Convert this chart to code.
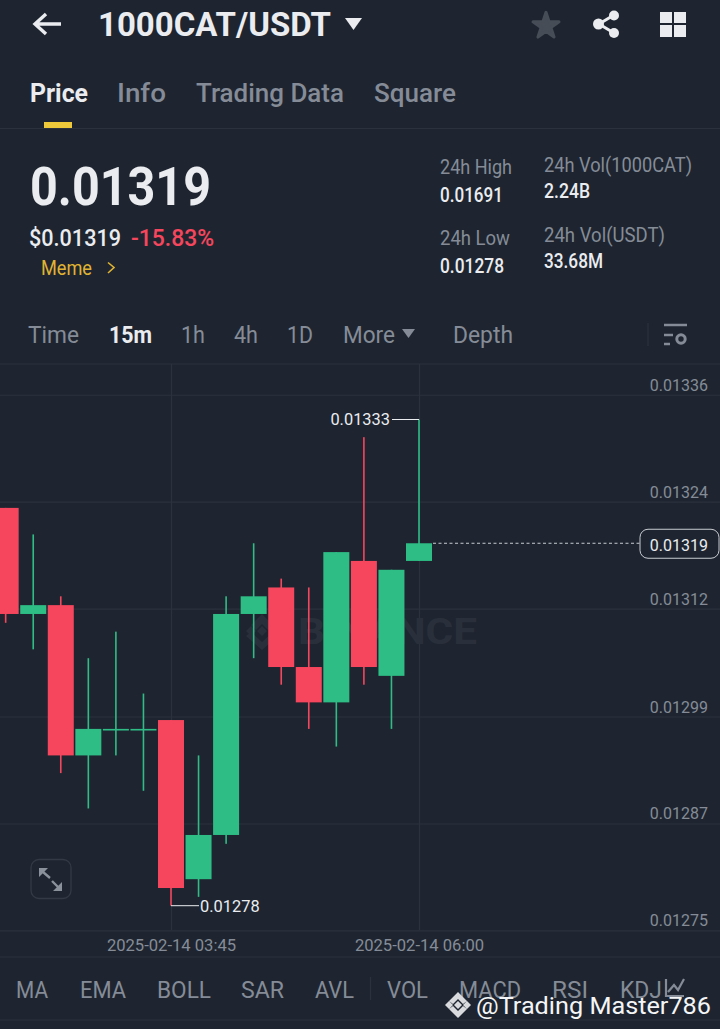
<!DOCTYPE html>
<html>
<head>
<meta charset="utf-8">
<style>
  html, body { margin: 0; padding: 0; background: #1e2530; }
  svg { display: block; }
  text { font-family: Roboto, sans-serif; }
</style>
</head>
<body>
<div id="chart"></div>
<script src="https://cdn.jsdelivr.net/npm/d3@7"></script>
<script>
// 15m candles, one per slot
let times = ['02:15', '02:30', '02:45', '03:00', '03:15', '03:30', '03:45', '04:00',
  '04:15', '04:30', '04:45', '05:00', '05:15', '05:30', '05:45', '06:00']
let opens = [0.01323, 0.01311, 0.01312, 0.01295, 0.01298, 0.01298, 0.01299, 0.01281,
  0.01286, 0.01311, 0.01314, 0.01305, 0.01301, 0.01317, 0.01304, 0.01317]
let closes = [0.01311, 0.01312, 0.01295, 0.01298, 0.01298, 0.01298, 0.01280, 0.01286,
  0.01311, 0.01313, 0.01305, 0.01301, 0.01318, 0.01305, 0.01316, 0.01319]
let highs = [0.01323, 0.01320, 0.01313, 0.01306, 0.01309, 0.01302, 0.01299, 0.01295,
  0.01313, 0.01319, 0.01315, 0.01314, 0.01318, 0.01331, 0.01316, 0.01333]
let lows = [0.01310, 0.01307, 0.01293, 0.01289, 0.01295, 0.01291, 0.01278, 0.01279,
  0.01285, 0.01306, 0.01303, 0.01298, 0.01296, 0.01303, 0.01298, 0.01317]

// the app's gridlines sit on unrounded prices, labels round them to 5 places
let priceTicks = [0.013358, 0.013237, 0.013116, 0.012994, 0.012873, 0.012752]
let timeTicks = ['03:45', '06:00']
let lastPrice = 0.01319
let maxPrice = 0.01333
let minPrice = 0.01278

let tabs = ['Price', 'Info', 'Trading Data', 'Square']
let intervals = ['Time', '15m', '1h', '4h', '1D', 'More', 'Depth']
let indicators = ['MA', 'EMA', 'BOLL', 'SAR', 'AVL', 'VOL', 'MACD', 'RSI', 'KDJ']

let width = 720
let height = 1029

let bg = '#1e2530'
let gridColor = '#2c323d'
let grey = '#858c97'
let white = '#eaecef'
let green = '#2ebd85'
let red = '#f6465d'

let parseTime = d => new Date(2025, 1, 14, +d.slice(0, 2), +d.slice(3))

let candles = times.map((t, i) => ({
  time: parseTime(t), open: opens[i], close: closes[i], high: highs[i], low: lows[i]
}))

let svg = d3
  .select('#chart')
  .append('svg')
  .attr('width', width)
  .attr('height', height)

svg.append('rect').attr('width', width).attr('height', height).attr('fill', bg)

let x = d3
  .scaleTime()
  .domain([parseTime('03:45'), parseTime('06:00')])
  .range([171, 419])

let y = d3
  .scaleLinear()
  .domain([minPrice, maxPrice])
  .range([905.7, 419.5])

function label(str, xPos, yPos, size, fill, weight, fit) {
  let t = svg
    .append('text')
    .attr('x', xPos)
    .attr('y', yPos)
    .attr('font-size', size)
    .attr('fill', fill)
    .attr('font-weight', weight || 400)
    .text(str)
  if (fit) t.attr('textLength', fit).attr('lengthAdjust', 'spacingAndGlyphs')
  return t
}

function hline(yPos, x1, x2) {
  svg.append('line')
    .attr('x1', x1 || 0).attr('x2', x2 || width)
    .attr('y1', yPos).attr('y2', yPos)
    .attr('stroke', gridColor).attr('stroke-width', 1.2)
}

// ---- header
svg.append('path')
  .attr('d', 'M61 24H36M46 14L35 24L46 34')
  .attr('fill', 'none').attr('stroke', white).attr('stroke-width', 3.4)
label('1000CAT/USDT', 98, 36, 34, white, 700, 233)
svg.append('path').attr('d', 'M345 18H362L353.5 30Z').attr('fill', white)
svg.append('path')
  .attr('d', d3.symbol(d3.symbolStar).size(210)())
  .attr('transform', 'translate(546,26)')
  .attr('fill', '#474d57')
  .attr('stroke', '#474d57').attr('stroke-width', 3).attr('stroke-linejoin', 'round')
svg.append('path')
  .attr('d', 'M614 15L599 24L614 33')
  .attr('fill', 'none').attr('stroke', white).attr('stroke-width', 3)
svg.selectAll('.share')
  .data([[614, 15.5, 5], [598.5, 24, 5.5], [614, 33, 5]])
  .enter().append('circle')
  .attr('cx', d => d[0]).attr('cy', d => d[1]).attr('r', d => d[2])
  .attr('fill', white)
svg.selectAll('.cell')
  .data([[660, 12, 12, 11], [674, 12, 12, 11], [660, 25, 12, 12], [674, 25, 12, 12]])
  .enter().append('rect')
  .attr('x', d => d[0]).attr('y', d => d[1]).attr('width', d => d[2]).attr('height', d => d[3])
  .attr('fill', white)

// ---- tabs
let tabX = [30, 117, 196, 374]
let tabW = [58, 49, 148, 82]
tabs.forEach((t, i) => {
  label(t, tabX[i], 102, 26, i == 0 ? white : grey, i == 0 ? 700 : 500, tabW[i])
})
svg.append('rect').attr('x', 44).attr('y', 122).attr('width', 28).attr('height', 6).attr('fill', '#f0c93a')
hline(128.5)

// ---- price block
label('0.01319', 30, 204.5, 54, white, 700, 181)
label('$0.01319', 29, 246, 24, white, 500, 92)
label('-15.83%', 131, 246, 24, red, 500, 83)
label('Meme', 41, 275, 20, '#e0b432', 400, 51)
svg.append('path')
  .attr('d', 'M108 262.5L114 267.5L108 273')
  .attr('fill', 'none').attr('stroke', '#e0b432').attr('stroke-width', 1.6)

label('24h High', 440, 174, 20.5, grey, 400, 72)
label('0.01691', 440, 201.5, 20, white, 500, 63)
label('24h Low', 440, 245, 20.5, grey, 400, 70)
label('0.01278', 440, 272.5, 20, white, 500, 64)
label('24h Vol(1000CAT)', 544, 171.5, 20.5, grey, 400, 148)
label('2.24B', 544, 198, 20, white, 500, 46)
label('24h Vol(USDT)', 544, 241.5, 20.5, grey, 400, 121)
label('33.68M', 544, 268, 20, white, 500, 59)

// ---- interval row
let intervalX = [28, 109, 181, 234, 287, 343, 453]
let intervalW = [51, 43, 24, 24, 26, 52, 60]
intervals.forEach((t, i) => {
  label(t, intervalX[i], 342.5, 24, i == 1 ? white : grey, i == 1 ? 700 : 400, intervalW[i])
})
svg.append('path').attr('d', 'M402 329H415L408.5 338Z').attr('fill', grey)
svg.append('line')
  .attr('x1', 648).attr('x2', 648).attr('y1', 323).attr('y2', 346)
  .attr('stroke', gridColor).attr('stroke-width', 1.2)
svg.append('path')
  .attr('d', 'M664 325H687M664 335H673M664 344H670')
  .attr('fill', 'none').attr('stroke', grey).attr('stroke-width', 2.6)
svg.append('circle')
  .attr('cx', 681).attr('cy', 339).attr('r', 4.2)
  .attr('fill', 'none').attr('stroke', grey).attr('stroke-width', 3)

// ---- chart grid
hline(364)

let priceAxis = d3
  .axisRight(y)
  .tickValues(priceTicks)
  .tickFormat(d3.format('.5f'))
  .tickSize(width)

svg.append('g')
  .attr('class', 'price-axis')
  .call(priceAxis)
  .call(g => g.select('.domain').remove())
  .call(g => g.selectAll('line').attr('stroke', gridColor).attr('stroke-width', 1.2))
  .call(g => g.selectAll('text')
    .attr('x', 708).attr('dy', -4.5)
    .attr('text-anchor', 'end')
    .attr('font-family', 'Roboto, sans-serif')
    .attr('font-size', 16)
    .attr('fill', grey))

let timeAxis = d3
  .axisBottom(x)
  .tickValues(timeTicks.map(parseTime))
  .tickFormat(d3.timeFormat('%Y-%m-%d %H:%M'))
  .tickSize(0)
  .tickPadding(9)

let timeG = svg.append('g')
  .attr('transform', 'translate(0,930)')
  .call(timeAxis)
  .call(g => g.select('.domain').remove())
  .call(g => g.selectAll('text')
    .attr('font-family', 'Roboto, sans-serif')
    .attr('font-size', 16.6)
    .attr('fill', grey))

timeG.selectAll('.tick').append('line')
  .attr('y1', 0).attr('y2', -566)
  .attr('stroke', gridColor).attr('stroke-width', 1.2)

// ---- faint exchange watermark, under the candles
svg.append('path')
  .attr('d', 'M262 614L273 625L268 630L262 624L256 630L251 625ZM246 631L251 626L256 631L251 636ZM262 626L267 631L262 636L257 631ZM273 631L278 636 L262 650L246 636L251 632L262 642L273 632Z')
  .attr('fill', '#2a303b')
label('BINANCE', 298, 644, 36, '#2a303b', 700, 179)

// ---- candles
let candle = svg.selectAll('.candle')
  .data(candles)
  .enter()
  .append('g')
  .attr('class', 'candle')
  .attr('fill', d => d.close >= d.open ? green : red)

candle.append('rect')
  .attr('x', d => x(d.time) - 0.8)
  .attr('width', 1.6)
  .attr('y', d => y(d.high))
  .attr('height', d => y(d.low) - y(d.high))

candle.append('rect')
  .attr('x', d => x(d.time) - 13)
  .attr('width', 26)
  .attr('y', d => y(Math.max(d.open, d.close)))
  .attr('height', d => Math.max(y(Math.min(d.open, d.close)) - y(Math.max(d.open, d.close)), 1.6))

// ---- high / low callouts
let hiCandle = candles.find(d => d.high == maxPrice)
let loCandle = candles.find(d => d.low == minPrice)

svg.append('line')
  .attr('x1', x(hiCandle.time) - 27).attr('x2', x(hiCandle.time))
  .attr('y1', y(maxPrice)).attr('y2', y(maxPrice))
  .attr('stroke', white).attr('stroke-width', 1)
svg.append('text')
  .attr('x', x(hiCandle.time) - 29).attr('y', y(maxPrice) + 5.5)
  .attr('text-anchor', 'end').attr('font-size', 16.4).attr('fill', white)
  .text(d3.format('.5f')(maxPrice))

svg.append('line')
  .attr('x1', x(loCandle.time)).attr('x2', x(loCandle.time) + 28)
  .attr('y1', y(minPrice)).attr('y2', y(minPrice))
  .attr('stroke', white).attr('stroke-width', 1)
svg.append('text')
  .attr('x', x(loCandle.time) + 29).attr('y', y(minPrice) + 6)
  .attr('font-size', 16.4).attr('fill', white)
  .text(d3.format('.5f')(minPrice))

// ---- last price
svg.append('line')
  .attr('x1', 433).attr('x2', 640)
  .attr('y1', y(lastPrice)).attr('y2', y(lastPrice))
  .attr('stroke', '#c9ccd1').attr('stroke-width', 1).attr('stroke-dasharray', '3 2.5')
svg.append('rect')
  .attr('x', 640).attr('y', y(lastPrice) - 14)
  .attr('width', 79).attr('height', 29).attr('rx', 8)
  .attr('fill', bg).attr('stroke', '#c9ccd1').attr('stroke-width', 1)
svg.append('text')
  .attr('x', 708).attr('y', y(lastPrice) + 8)
  .attr('text-anchor', 'end').attr('font-size', 16).attr('font-weight', 400).attr('fill', white)
  .text(d3.format('.5f')(lastPrice))

// ---- expand button
svg.append('rect')
  .attr('x', 31).attr('y', 859.5).attr('width', 40).attr('height', 39).attr('rx', 8)
  .attr('fill', 'none').attr('stroke', '#343a45').attr('stroke-width', 1.3)
svg.append('path')
  .attr('d', 'M39 868H48L39 877ZM62 891H53L62 882Z')
  .attr('fill', '#8b919b')
svg.append('path')
  .attr('d', 'M43 872L50 878M58 887L52 881')
  .attr('stroke', '#8b919b').attr('stroke-width', 2.4)

// ---- indicator row
hline(957)
hline(1020)
let indicatorX = [16, 80, 157, 241, 315, 387, 459, 552, 620]
let indicatorW = [32, 46, 54, 43, 39, 41, 62, 36, 42]
indicators.forEach((t, i) => {
  label(t, indicatorX[i], 997.5, 24.5, grey, 400, indicatorW[i])
})
svg.append('line')
  .attr('x1', 370.5).attr('x2', 370.5).attr('y1', 977).attr('y2', 1000)
  .attr('stroke', gridColor).attr('stroke-width', 1.2)
svg.append('path')
  .attr('d', 'M666 979V996H684M668 992L674 985L678 990L684 979')
  .attr('fill', 'none').attr('stroke', grey).attr('stroke-width', 2.2)

// ---- repost credit over the bottom row
svg.append('path')
  .attr('d', 'M458 992L467 1001L463 1004L458 999L453 1004L449 1001ZM445 1005L449 1001L453 1005L449 1009ZM458 1001L462 1005L458 1009L454 1005ZM467 1001L471 1005L467 1009L463 1005ZM449 1009L453 1006L458 1011L463 1006L467 1009L458 1018Z')
  .attr('fill', '#d8dadd')
svg.append('text')
  .attr('x', 476).attr('y', 1014)
  .attr('font-family', '"Noto Sans", sans-serif')
  .attr('font-size', 24)
  .attr('fill', '#f4f5f6')
  .attr('textLength', 235)
  .attr('lengthAdjust', 'spacingAndGlyphs')
  .text('@Trading Master786')
</script>
</body>
</html>
